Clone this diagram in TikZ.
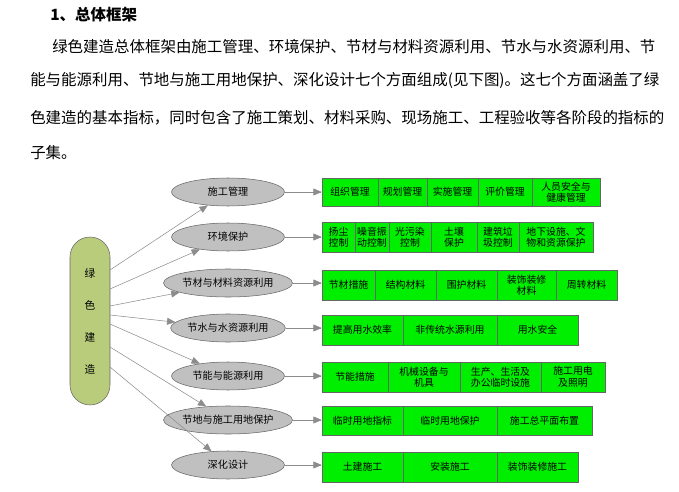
\documentclass[tikz,border=0pt]{standalone}
\usepackage{fontspec}
\newfontfamily\cjk{Noto Sans CJK SC}
\usetikzlibrary{arrows,shapes.geometric}
\definecolor{boxgreen}{RGB}{0,238,0}
\definecolor{olive}{RGB}{184,204,124}
\definecolor{ellgray}{RGB}{192,192,192}
\begin{document}
\begin{tikzpicture}[x=0.75pt,y=-0.75pt,>=triangle 45,font=\cjk,
                    every node/.style={inner sep=0pt}]

  \tikzstyle{para}=[anchor=west,font=\cjk\fontsize{11.6pt}{13pt}\selectfont]
  \tikzstyle{aspect}=[ellipse,draw=black!60,fill=ellgray,minimum width=84.75pt,
                      minimum height=21pt,font=\cjk\fontsize{7.6pt}{9pt}\selectfont]
  \tikzstyle{cell}=[rectangle,draw=black!60,fill=boxgreen,align=center,
                    font=\cjk\fontsize{7.4pt}{8.6pt}\selectfont]
  \tikzstyle{link}=[->,draw=black!45,thin]

  \useasboundingbox (0,0) rectangle (679,492);

  \node[para,font=\cjk\bfseries\fontsize{11.6pt}{13pt}\selectfont] (title) at (50,15) {1、总体框架};
  \node[para] (line1) at (52,47)  {绿色建造总体框架由施工管理、环境保护、节材与材料资源利用、节水与水资源利用、节};
  \node[para] (line2) at (30,80)  {能与能源利用、节地与施工用地保护、深化设计七个方面组成(见下图)。这七个方面涵盖了绿};
  \node[para] (line3) at (30,118) {色建造的基本指标，同时包含了施工策划、材料采购、现场施工、工程验收等各阶段的指标的};
  \node[para] (line4) at (30,153) {子集。};

  \node[rectangle,rounded corners=15pt,draw=black!60,fill=olive,minimum width=30pt,
        minimum height=126pt,align=center,font=\cjk\fontsize{8pt}{24pt}\selectfont]
        (root) at (90,321) {绿\\色\\建\\造};

  \foreach \n/\y/\s/\t in {1/192/270/施工管理,2/237/289/环境保护,3/283/306/节材与材料资源利用,
                           4/328/315/节水与水资源利用,5/376/324/节能与能源利用,
                           6/420/347/节地与施工用地保护,7/465/367/深化设计}
  {
    \node[aspect] (e\n) at (228,\y) {\t};
    \coordinate (s\n) at (110,\s);
    \draw[link] (s\n) -- (e\n);
  }

  % row of measures after each aspect
  \foreach \a/\b/\t/\n in {322/378/组织管理/1, 378/427/规划管理/2, 427/478/实施管理/3,
                           478/532/评价管理/4, 532/600/{人员安全与\\健康管理}/5}
    \node[cell,minimum width={(\b-\a)*0.75pt},minimum height=21pt] (ra\n) at ({(\a+\b)/2},192) {\t};
  \foreach \a/\b/\t/\n in {322/355/{扬尘\\控制}/1, 355/389/{噪音振\\动控制}/2, 389/431/{光污染\\控制}/3,
                           431/477/{土壤\\保护}/4, 477/519/{建筑垃\\圾控制}/5, 519/593/{地下设施、文\\物和资源保护}/6}
    \node[cell,minimum width={(\b-\a)*0.75pt},minimum height=22.5pt] (rb\n) at ({(\a+\b)/2},237) {\t};
  \foreach \a/\b/\t/\n in {322/375/节材措施/1, 375/436/结构材料/2, 436/497/围护材料/3,
                           497/556/{装饰装修\\材料}/4, 556/617/周转材料/5}
    \node[cell,minimum width={(\b-\a)*0.75pt},minimum height=22.5pt] (rc\n) at ({(\a+\b)/2},285) {\t};
  \foreach \a/\b/\t/\n in {322/403/提高用水效率/1, 403/497/非传统水源利用/2, 497/578/用水安全/3}
    \node[cell,minimum width={(\b-\a)*0.75pt},minimum height=22.5pt] (rd\n) at ({(\a+\b)/2},330) {\t};
  \foreach \a/\b/\t/\n in {322/388/节能措施/1, 388/460/{机械设备与\\机具}/2, 460/541/{生产、生活及\\办公临时设施}/3,
                           541/605/{施工用电\\及照明}/4}
    \node[cell,minimum width={(\b-\a)*0.75pt},minimum height=22.5pt] (re\n) at ({(\a+\b)/2},377) {\t};
  \foreach \a/\b/\t/\n in {322/403/临时用地指标/1, 403/497/临时用地保护/2, 497/592/施工总平面布置/3}
    \node[cell,minimum width={(\b-\a)*0.75pt},minimum height=22pt] (rf\n) at ({(\a+\b)/2},421) {\t};
  \foreach \a/\b/\t/\n in {322/403/土建施工/1, 403/497/安装施工/2, 497/578/装饰装修施工/3}
    \node[cell,minimum width={(\b-\a)*0.75pt},minimum height=22.5pt] (rg\n) at ({(\a+\b)/2},467) {\t};

  \foreach \n/\r in {1/a,2/b,3/c,4/d,5/e,6/f,7/g}
    \draw[link] (e\n) -- (e\n -| r\r1.west);
\end{tikzpicture}
\end{document}
